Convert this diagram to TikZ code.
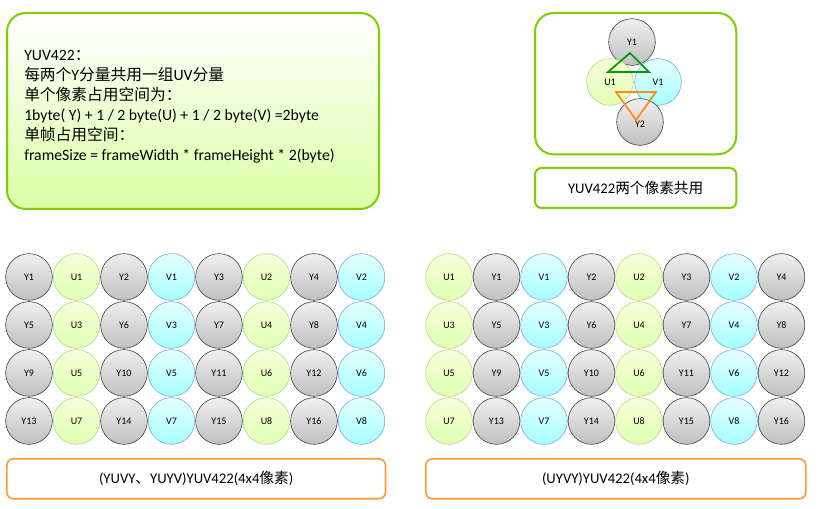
\documentclass[tikz,border=0pt]{standalone}
\usepackage{fontspec}
\setmainfont{Carlito}
\newfontfamily\zh{Noto Sans CJK SC}
\begin{document}
\begin{tikzpicture}[x=0.75pt,y=-0.75pt,
  gbox/.style={draw=green!45!olive!70!yellow,line width=1.5pt,rounded corners=14pt},
  obox/.style={draw=orange!80,line width=1.2pt,rounded corners=5pt},
  cy/.style={circle,draw=black!80,minimum size=35pt,inner sep=0pt,font=\fontsize{7.5}{8}\selectfont,top color=gray!12,bottom color=gray!50},
  cu/.style={circle,draw=green!40!olive!50,minimum size=35pt,inner sep=0pt,font=\fontsize{7.5}{8}\selectfont,top color=green!20!yellow!15,bottom color=green!40!yellow!30},
  cv/.style={circle,draw=cyan!60!blue!60,minimum size=35pt,inner sep=0pt,font=\fontsize{7.5}{8}\selectfont,top color=cyan!10,bottom color=cyan!35}]
\useasboundingbox (0,0) rectangle (819,509);
\fill[white] (0,0) rectangle (819,509);
% top-left box
\node[gbox,minimum width=279pt,minimum height=147pt,anchor=north west,top color=white,bottom color=green!40!yellow!35] (info) at (6,12) {};
\node[anchor=north west,align=left,font=\fontsize{11.8}{15}\selectfont,inner sep=0pt] (txt) at (24,50) {YUV422{\zh ：}\\
{\zh 每两个}Y{\zh 分量共用一组}UV{\zh 分量}\\
{\zh 单个像素占用空间为：}\\
1byte( Y) + 1 / 2 byte(U) + 1 / 2 byte(V) =2byte\\
{\zh 单帧占用空间：}\\
frameSize = frameWidth * frameHeight * 2(byte)};
% top-right
\node[gbox,minimum width=151pt,minimum height=106pt,anchor=north west] (pair) at (534,12) {};
\node[gbox,rounded corners=5pt,minimum width=151pt,minimum height=30pt,anchor=north west,font=\fontsize{11}{12}\selectfont] (pairlbl) at (534,167) {YUV422{\zh 两个像素共用}};
\node[cy] (py1) at (632,42) {};
\node[cu] (pu1) at (610,82) {U1};
\node[cv] (pv1) at (658,82) {V1};
\node[cy] (py2) at (640,122) {};
\node[font=\fontsize{7.5}{8}\selectfont] (ly1) at (632,42) {Y1};
\node[font=\fontsize{7.5}{8}\selectfont] (ly2) at (640,124) {Y2};
\draw[green!60!black,line width=1.3pt] (630,53) -- (608,72) -- (649,72) -- cycle;
\draw[orange!90,line width=1.3pt] (616,92) -- (656,92) -- (636,120) -- cycle;
% grids
\foreach \r/\y [count=\i] in {0/277,1/325,2/373,3/421}{
  \foreach \c in {0,...,7}{
    \pgfmathtruncatemacro{\k}{mod(\c,4)}
    \pgfmathtruncatemacro{\yn}{4*\r+\c/2+1}
    \pgfmathtruncatemacro{\un}{2*\r+\c/4+1}
    \pgfmathsetmacro{\x}{29+47.5*\c}
    \pgfmathsetmacro{\xx}{449+47.5*\c}
    \ifodd\c \pgfmathtruncatemacro{\yn}{4*\r+(\c-1)/2+1}\fi
    \ifnum\k=1 \node[cu] (L\i-\c) at (\x,\y) {U\un};
    \else\ifnum\k=3 \node[cv] (L\i-\c) at (\x,\y) {V\un};
    \else \pgfmathtruncatemacro{\yl}{4*\r+\c/2+1}\node[cy] (L\i-\c) at (\x,\y) {Y\yl};\fi\fi
    \ifnum\k=0 \node[cu] (R\i-\c) at (\xx,\y) {U\un};
    \else\ifnum\k=2 \node[cv] (R\i-\c) at (\xx,\y) {V\un};
    \else \node[cy] (R\i-\c) at (\xx,\y) {Y\yn};\fi\fi
  }
}
\node[obox,minimum width=284pt,minimum height=30pt,anchor=north west,font=\fontsize{11}{12}\selectfont] (lbl1) at (6,458) {(YUVY{\zh 、}YUYV)YUV422(4x4{\zh 像素})};
\node[obox,minimum width=285pt,minimum height=30pt,anchor=north west,font=\fontsize{11}{12}\selectfont] (lbl2) at (425,458) {(UYVY)YUV422(4x4{\zh 像素})};
\end{tikzpicture}
\end{document}
